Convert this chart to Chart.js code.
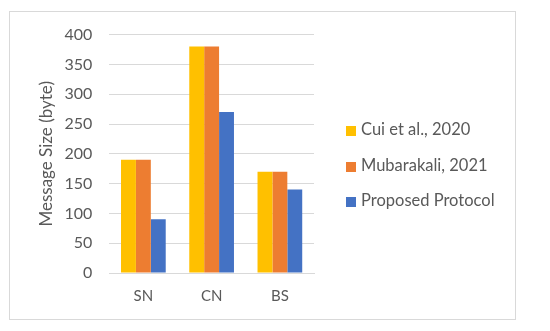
<!DOCTYPE html>
<html>
<head>
<meta charset="utf-8">
<script src="https://cdn.jsdelivr.net/npm/chart.js@4/dist/chart.umd.min.js"></script>
<style>
  body { margin: 0; background: #fff; }
  #frame { position: absolute; left: 9px; top: 11px; width: 505px; height: 307px; border: 1px solid #d9d9d9; }
  #frame canvas { display: block; margin-top: -4px; }
  #legend { position: absolute; left: 336px; top: 100px; margin: 0; padding: 0; list-style: none;
            font-family: Lato, "Open Sans", sans-serif; font-size: 16.5px; color: #595959; }
  #legend li { height: 35.5px; line-height: 35.5px; white-space: nowrap; }
  #legend span { display: inline-block; width: 10px; height: 10px; margin-right: 5px; vertical-align: -1px; }
</style>
</head>
<body>
<div id="frame"><canvas id="chart" width="505" height="311"></canvas><ul id="legend"></ul></div>
<script>
const categories = ['SN', 'CN', 'BS'];
const cuiValues = [190, 380, 170];
const mubarakaliValues = [190, 380, 170];
const proposedValues = [90, 270, 140];
const yTicks = [0, 50, 100, 150, 200, 250, 300, 350, 400];

const textColor = '#595959';
const fontFamily = 'Lato, "Open Sans", sans-serif';

const chart = new Chart(document.getElementById('chart'), {
    type: 'bar',
    data: {
        labels: categories,
        datasets: [
            { label: 'Cui et al., 2020', data: cuiValues, backgroundColor: '#FFC000' },
            { label: 'Mubarakali, 2021', data: mubarakaliValues, backgroundColor: '#ED7D31' },
            { label: 'Proposed Protocol', data: proposedValues, backgroundColor: '#4472C4' }
        ]
    },
    options: {
        responsive: false,
        animation: false,
        layout: { padding: { left: 26, right: 201, top: 0, bottom: 0 } },
        datasets: { bar: { categoryPercentage: 0.655, barPercentage: 1.0 } },
        plugins: {
            legend: { display: false },
            tooltip: { enabled: false }
        },
        scales: {
            y: {
                min: 0,
                max: 400,
                afterBuildTicks: axis => { axis.ticks = yTicks.map(v => ({ value: v })); },
                ticks: { color: textColor, font: { family: fontFamily, size: 16 }, padding: 17 },
                grid: { color: '#d9d9d9', drawTicks: false },
                border: { display: false },
                title: {
                    display: true,
                    text: 'Message Size (byte)',
                    color: textColor,
                    font: { family: fontFamily, size: 17 },
                    padding: { top: 0, bottom: -9 }
                }
            },
            x: {
                ticks: { color: textColor, font: { family: fontFamily, size: 15 }, padding: 14 },
                grid: { display: false, drawTicks: false },
                border: { color: '#d9d9d9' }
            }
        }
    }
});

// legend built from the chart's own datasets
const legendEl = document.getElementById('legend');
chart.data.datasets.forEach(ds => {
    const li = document.createElement('li');
    li.innerHTML = `<span style="background:${ds.backgroundColor}"></span>${ds.label}`;
    legendEl.appendChild(li);
});
</script>
</body>
</html>
